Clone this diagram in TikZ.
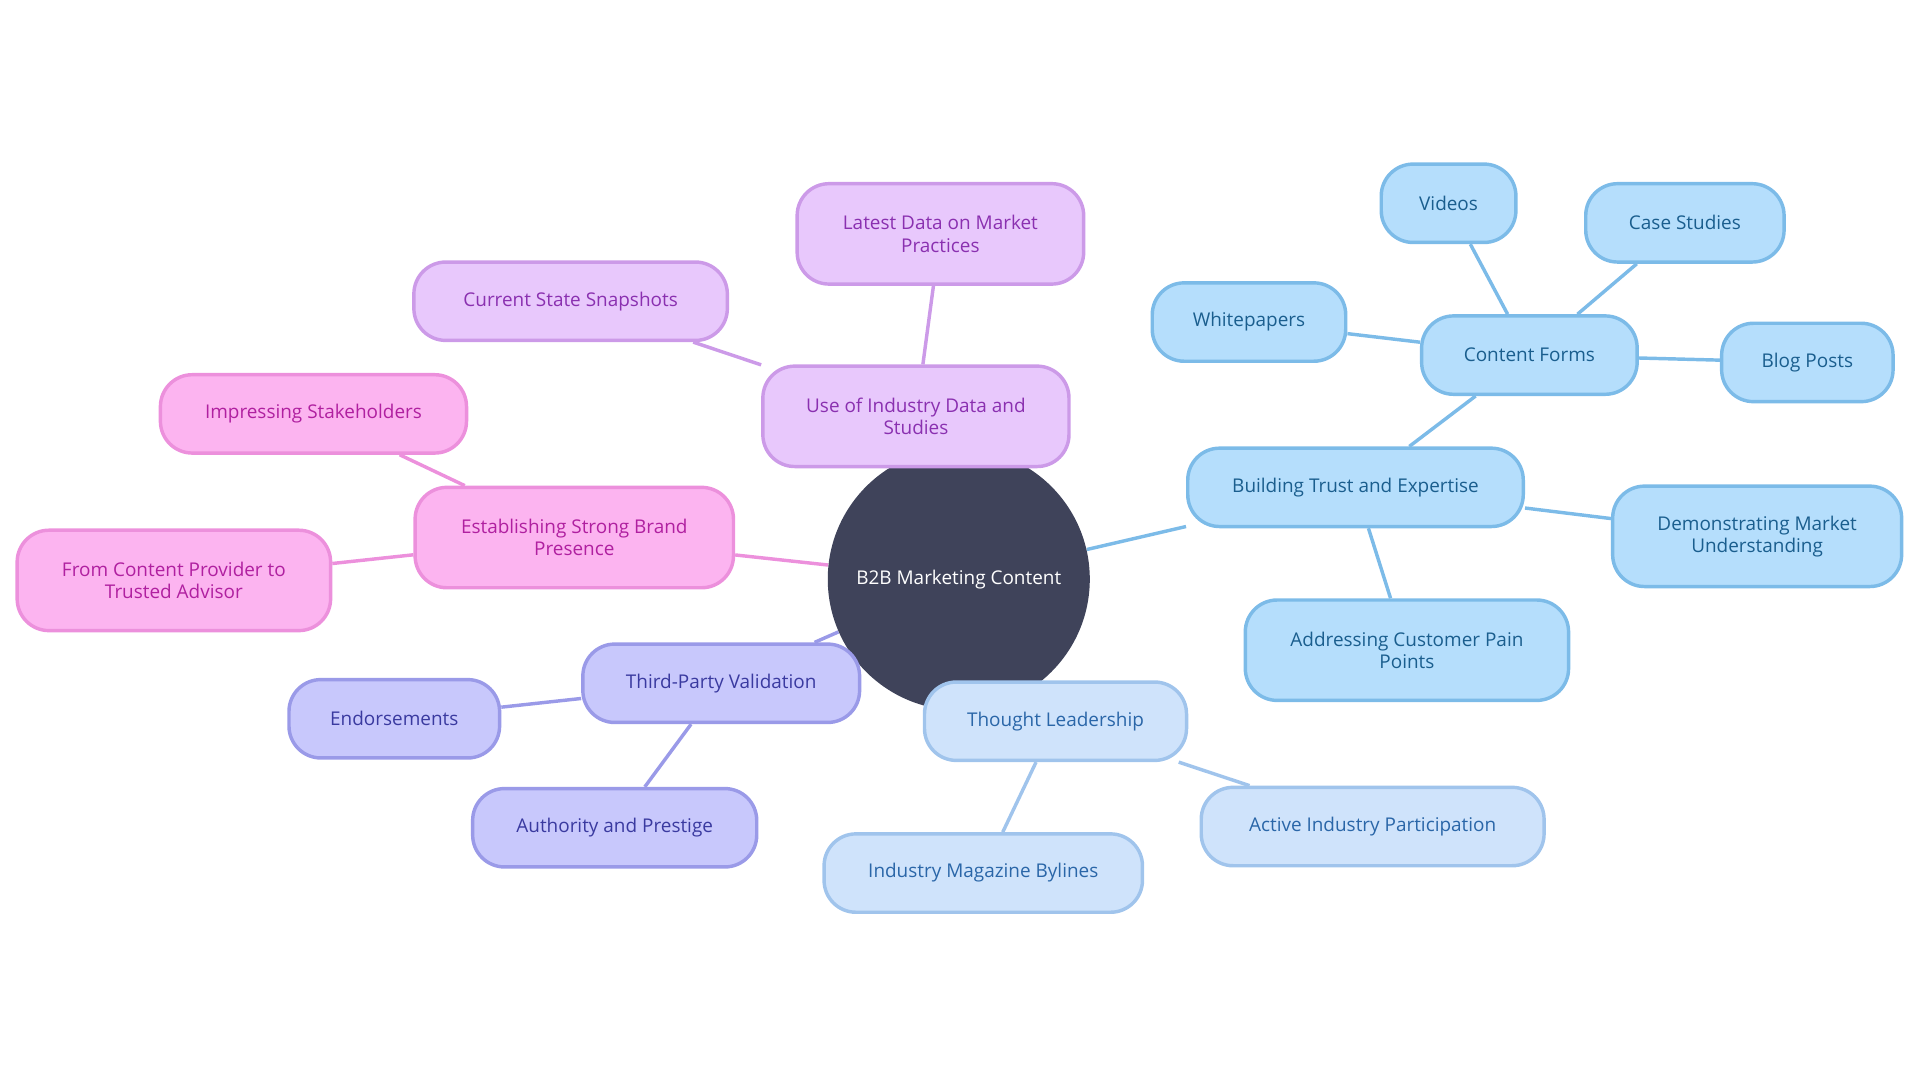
\documentclass[tikz,border=0pt]{standalone}
\usepackage{fontspec}
\setmainfont{Open Sans}
\usetikzlibrary{backgrounds}
\definecolor{hub}{HTML}{3F435A}
\definecolor{blfill}{HTML}{B5DEFC}\definecolor{bldraw}{HTML}{7CBBE8}\definecolor{bltext}{HTML}{1A5E8E}
\definecolor{ltfill}{HTML}{CFE3FB}\definecolor{ltdraw}{HTML}{A0C4EC}\definecolor{lttext}{HTML}{2A66A8}
\definecolor{vifill}{HTML}{C8C8FC}\definecolor{vidraw}{HTML}{9A9AE8}\definecolor{vitext}{HTML}{3A3AA0}
\definecolor{pkfill}{HTML}{FCB4F0}\definecolor{pkdraw}{HTML}{EC90DC}\definecolor{pktext}{HTML}{B020A0}
\definecolor{pufill}{HTML}{E8C8FC}\definecolor{pudraw}{HTML}{CC9AE8}\definecolor{putext}{HTML}{8A30B0}
\tikzset{
    leaf/.style={rectangle, rounded corners=0.65cm, line width=2pt, align=center, inner sep=2pt,
        font=\fontsize{11}{13}\selectfont},
    sz/.style 2 args={minimum width=#1*0.025cm, minimum height=#2*0.025cm},
    blue/.style={leaf, draw=bldraw, fill=blfill, text=bltext},
    light/.style={leaf, draw=ltdraw, fill=ltfill, text=lttext},
    violet/.style={leaf, draw=vidraw, fill=vifill, text=vitext},
    pink/.style={leaf, draw=pkdraw, fill=pkfill, text=pktext},
    purple/.style={leaf, draw=pudraw, fill=pufill, text=putext},
    link/.style={line width=2pt}
}
\begin{document}
\begin{tikzpicture}[x=0.025cm, y=-0.025cm]
    \useasboundingbox (0,0) rectangle (1568,882);

    % hub
    \node (hub) [circle, fill=hub, text=white, minimum size=214*0.025cm, font=\fontsize{11}{13}\selectfont] at (783,473) {B2B Marketing Content};

    % trust branch
    \node (trust) [blue, sz={274}{64}] at (1107,398) {Building Trust and Expertise};
    \node (forms) [blue, sz={176}{64}] at (1249,290) {Content Forms};
    \node (videos) [blue, sz={110}{64}] at (1183,166) {Videos};
    \node (cases) [blue, sz={162}{64}] at (1376,182) {Case Studies};
    \node (white) [blue, sz={158}{64}] at (1020,263) {Whitepapers};
    \node (blog) [blue, sz={140}{64}] at (1476,296) {Blog Posts};
    \node (market) [blue, sz={236}{82}] at (1435,438) {Demonstrating Market\\Understanding};
    \node (pain) [blue, sz={264}{82}] at (1149,531) {Addressing Customer Pain\\Points};

    % leadership branch
    \node (lead) [light, sz={214}{64}] at (862,589) {Thought Leadership};
    \node (active) [light, sz={280}{64}] at (1121,675) {Active Industry Participation};
    \node (bylines) [light, sz={260}{64}] at (803,713) {Industry Magazine Bylines};

    % validation branch
    \node (valid) [violet, sz={226}{64}] at (589,558) {Third-Party Validation};
    \node (endorse) [violet, sz={172}{64}] at (322,587) {Endorsements};
    \node (prestige) [violet, sz={232}{64}] at (502,676) {Authority and Prestige};

    % brand branch
    \node (brand) [pink, sz={260}{82}] at (469,439) {Establishing Strong Brand\\Presence};
    \node (impress) [pink, sz={250}{64}] at (256,338) {Impressing Stakeholders};
    \node (advisor) [pink, sz={256}{82}] at (142,474) {From Content Provider to\\Trusted Advisor};

    % data branch
    \node (data) [purple, sz={250}{82}] at (748,340) {Use of Industry Data and\\Studies};
    \node (snap) [purple, sz={256}{64}] at (466,246) {Current State Snapshots};
    \node (latest) [purple, sz={234}{82}] at (768,191) {Latest Data on Market\\Practices};

    \begin{scope}[on background layer]
        \draw [link, bldraw] (hub) -- (trust);
        \draw [link, bldraw] (trust) -- (forms);
        \draw [link, bldraw] (trust) -- (market);
        \draw [link, bldraw] (trust) -- (pain);
        \draw [link, bldraw] (forms) -- (videos);
        \draw [link, bldraw] (forms) -- (cases);
        \draw [link, bldraw] (forms) -- (white);
        \draw [link, bldraw] (forms) -- (blog);
        \draw [link, ltdraw] (hub) -- (lead);
        \draw [link, ltdraw] (lead) -- (active);
        \draw [link, ltdraw] (lead) -- (bylines);
        \draw [link, vidraw] (hub) -- (valid);
        \draw [link, vidraw] (valid) -- (endorse);
        \draw [link, vidraw] (valid) -- (prestige);
        \draw [link, pkdraw] (hub) -- (brand);
        \draw [link, pkdraw] (brand) -- (impress);
        \draw [link, pkdraw] (brand) -- (advisor);
        \draw [link, pudraw] (hub) -- (data);
        \draw [link, pudraw] (data) -- (snap);
        \draw [link, pudraw] (data) -- (latest);
    \end{scope}
\end{tikzpicture}
\end{document}
